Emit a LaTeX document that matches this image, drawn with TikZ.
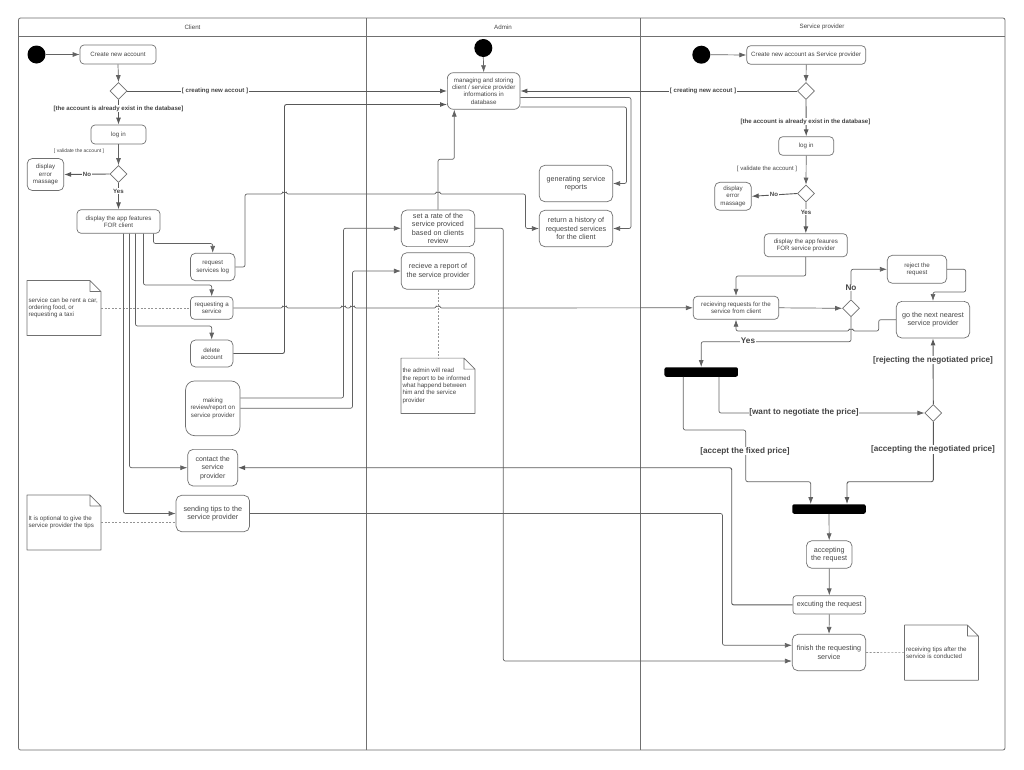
\documentclass[tikz,border=0pt]{standalone}
\usepackage{fontspec}
\setmainfont{Liberation Sans}
\usetikzlibrary{arrows.meta,shapes.geometric}
\definecolor{linec}{HTML}{626262}
\definecolor{boxc}{HTML}{707070}
\definecolor{txt}{HTML}{444444}
\newcommand\fa{\fontsize{6.2}{7.3}\selectfont}
\newcommand\fb{\fontsize{7.2}{8.5}\selectfont}
\newcommand\fc{\fontsize{6.1}{7.3}\selectfont\bfseries}
\newcommand\fd{\fontsize{8.2}{9}\selectfont\bfseries}
\hyphenpenalty=10000
\tikzset{
  act/.style={rectangle,rounded corners=4,draw=boxc,line width=.7,align=center,inner sep=0,text=txt,font=\fa},
  big/.style={act,font=\fb,rounded corners=5.5},
  dec/.style={diamond,draw=boxc,line width=.7,inner sep=0,minimum width=17,minimum height=17,aspect=1,fill=white},
  start/.style={circle,fill=black,inner sep=0,minimum size=18},
  bar/.style={rectangle,rounded corners=2,fill=black,inner sep=0,minimum width=73.5,minimum height=9.5},
  note/.style={rectangle,inner ysep=0,inner xsep=1,minimum width=73.5,text width=71,align=flush left,font=\fa,text=txt},
  flow/.style={draw=linec,line width=.7,rounded corners=2,-{Latex[length=7,width=5]}},
  strong/.style={flow,draw=linec!90!black,line width=.9},
  dotl/.style={draw=gray!85,line width=.6,dash pattern=on 2 off 1.6},
  lab/.style={fill=white,inner sep=.6,text=txt,font=\fc},
  labd/.style={fill=white,inner sep=.6,text=txt,font=\fd},
  hop/.style 2 args={insert path={-- ({#1-1.8},#2) arc[start angle=180,end angle=0,radius=1.8pt]}},
  poh/.style 2 args={insert path={-- ({#1+1.8},#2) arc[start angle=0,end angle=180,radius=1.8pt]}},
}
\begin{document}
\begin{tikzpicture}[x=1pt,y=-1pt]
\useasboundingbox (0,0) rectangle (1024,769);
% lanes
\draw[draw=gray!85!black,line width=.8,rounded corners=2] (18.5,18) rectangle (1005,750);
\draw[draw=boxc,line width=.8] (18.5,36) -- (1005,36) (366,18) -- (366,750) (640,18) -- (640,750);
\node[font=\fa,text=txt] (tclient) at (192.5,27) {Client};
\node[font=\fa,text=txt] (tadmin) at (503,27) {Admin};
\node[font=\fa,text=txt] (tsp) at (822,27) {Service provider};
% client nodes
\node[start] (cs) at (36.5,54.5) {};
\node[act,minimum width=76,minimum height=19] (ccreate) at (118,54.5) {Create new account};
\node[dec] (cd1) at (118.5,91) {};
\node[act,minimum width=55,minimum height=19] (clogin) at (118.5,134.5) {log in};
\node[dec] (cd2) at (118.5,174) {};
\node[act,minimum width=36.5,minimum height=32,rounded corners=5] (cerr) at (45.5,174.5) {display\\error\\massage};
\node[act,minimum width=83,minimum height=23.5] (cdisp) at (118.5,221.5) {display the app features\\FOR client};
\node[act,minimum width=44.5,minimum height=27.5,rounded corners=5] (clog) at (212.7,267) {request\\services log};
\node[act,minimum width=42.5,minimum height=22.5] (creq) at (211.7,308) {requesting a\\service};
\node[act,minimum width=42.5,minimum height=27,rounded corners=5] (cdel) at (211.7,353.5) {delete\\account};
\node[act,minimum width=54.5,minimum height=54.7,rounded corners=9] (cmake) at (212.8,408.3) {making\\review/report  on\\service provider};
\node[big,minimum width=50,minimum height=36.7,font=\fontsize{7}{8.5}\selectfont] (ccontact) at (212.7,467.7) {contact the\\service\\provider};
\node[big,minimum width=73.5,minimum height=36.4] (ctips) at (212.8,513.5) {sending tips to the\\service provider};
\node[note,minimum height=54.6] (n1) at (64,308) {service can be rent a car,\\ordering food, or\\requesting a taxi};
\node[note,minimum height=54.6] (n2) at (64,522.5) {It is optional to give the\\service provider the tips};
% admin nodes
\node[start] (as) at (483.3,48) {};
\node[act,minimum width=72.7,minimum height=36.6,rounded corners=6] (amanage) at (483.7,91) {managing and storing\\client / service provider\\informations in\\database};
\node[big,minimum width=73.4,minimum height=36.4] (agen) at (576,183.5) {generating service\\reports};
\node[big,minimum width=73.4,minimum height=36.4] (ahist) at (576,228.5) {return a history of\\requested services\\for the client};
\node[big,minimum width=73.4,minimum height=36.6,font=\fontsize{7.2}{8.5}\selectfont] (arate) at (438,228.3) {set a rate of the\\service proviced\\based on clients\\review};
\node[big,minimum width=73.4,minimum height=36.6] (arep) at (438,271) {recieve a report of\\the service provider};
\node[note,minimum height=55] (n3) at (438,385.8) {the admin will read\\the report to be informed\\what happend between\\him and the service\\provider};
% sp nodes
\node[start] (ss) at (701.3,54.7) {};
\node[act,minimum width=119,minimum height=18.6] (screate) at (806.2,55) {Create new account as Service provider};
\node[dec] (sd1) at (806,91) {};
\node[act,minimum width=55,minimum height=18.6] (slogin) at (806.2,146) {log in};
\node[dec] (sd2) at (806,193.5) {};
\node[act,minimum width=36.6,minimum height=28,rounded corners=5] (serr) at (733,196.3) {display\\error\\massage};
\node[act,minimum width=83,minimum height=23] (sdisp) at (805.8,245.2) {display the app feaures\\FOR service provider};
\node[act,minimum width=85.4,minimum height=23] (srecv) at (736,307.8) {recieving requests for the\\service from client};
\node[dec] (sd3) at (851,308.3) {};
\node[act,minimum width=59.4,minimum height=28,rounded corners=5] (srej) at (917,269.3) {reject the\\request};
\node[big,minimum width=73.4,minimum height=36.7] (sgo) at (933,319.7) {go the next nearest\\service provider};
\node[bar] (sb1) at (701.2,372) {};
\node[dec] (sd4) at (933.3,413) {};
\node[bar] (sb2) at (829,509) {};
\node[big,minimum width=45.7,minimum height=27.6] (sacc) at (829.2,554.5) {accepting\\the request};
\node[big,minimum width=72.7,minimum height=18.3,rounded corners=3] (sexe) at (829.3,604.9) {excuting the request};
\node[big,minimum width=73.4,minimum height=36.4] (sfin) at (829,652.5) {finish the requesting\\service};
\node[note,minimum height=54.7] (n4) at (941.5,652.6) {receiving tips after the\\service is conducted};
% note outlines
\foreach \n in {n1,n2,n3,n4}{
  \draw[draw=boxc,line width=.7,line join=round]
    ([xshift=-11]\n.north east) -- (\n.north west) -- (\n.south west) -- (\n.south east) -- ([yshift=-11]\n.north east) -- ([xshift=-11]\n.north east) -- ([xshift=-11,yshift=-11]\n.north east) -- ([yshift=-11]\n.north east);
}
% note links
\draw[dotl] (n1.east) -- (creq.west);
\draw[dotl] (n2.east) -- ([yshift=-9]ctips.west);
\draw[dotl] (arep.south) -- (n3.north);
\draw[dotl] (sfin.east) -- (n4.west);
% client flows
\draw[flow] (cs.east) -- (ccreate.west);
\draw[flow] (ccreate.south) -- (cd1.north);
\draw[strong] (cd1.east) -- (amanage.west);
\draw[strong] (cd1.south) -- (clogin.north);
\draw[flow] (clogin.south) -- (cd2.north);
\draw[strong] (cd2.west) -- (cerr.east);
\draw[strong] (cd2.south) -- (cdisp.north);
\draw[flow] ([xshift=35]cdisp.south) -- (153.5,243.5) -| (clog.north);
\draw[flow] ([xshift=25]cdisp.south) -- (143.5,285) -| (creq.north);
\draw[flow] ([xshift=17]cdisp.south) -- (135.5,326) -| (cdel.north);
\draw[flow] ([xshift=11]cdisp.south) |- (ccontact.west);
\draw[flow] ([xshift=5]cdisp.south) |- (ctips.west);
\draw[flow] (clog.east) -| (245,194) [hop={284.5}{194}] [hop={438}{194}] -- (525.5,194) |- (ahist.west);
\draw[strong] (cdel.east) -| (284.5,104.5) -- ([yshift=-13.5]amanage.west);
\draw[flow] ([yshift=10.3]cmake.east) -| (343.5,228.3) -- (arate.west);
\draw[flow] (cmake.east) -| (352.5,271) -- (arep.west);
\draw[flow] (creq.east) [hop={284.5}{308}] [hop={343.5}{308}] [hop={352.5}{308}] [hop={438}{308}] -- (srecv.west);
\draw[flow] ([xshift=0]ctips.east) -| (722.5,645.3) -- ([yshift=7.2]sfin.west);
% admin flows
\draw[flow] (as.south) -- (amanage.north);
\draw[flow] ([yshift=-16]amanage.east) -| (626.5,183.5) -- (agen.east);
\draw[flow] ([yshift=-6.5]amanage.east) -| (631,228.5) -- (ahist.east);
\draw[flow] (arate.north) |- (454.3,159.3) -- ([xshift=-29.4]amanage.south);
\draw[flow] (arate.east) -| (503.3,661) -- ([yshift=-8.5]sfin.west);
% sp flows
\draw[flow] (ss.east) -- (screate.west);
\draw[flow] (screate.south) -- (sd1.north);
\draw[strong] (sd1.west) -- (amanage.east);
\draw[strong] (sd1.south) -- (slogin.north);
\draw[flow] (slogin.south) -- (sd2.north);
\draw[strong] (sd2.west) -- (serr.east);
\draw[strong] (sd2.south) -- (sdisp.north);
\draw[flow] (sdisp.south) |- (736,276) -- (srecv.north);
\draw[flow] (srecv.east) -- (sd3.west);
\draw[flow] (sd3.north) |- (srej.west);
\draw[flow] (srej.east) -| (965.7,292) -| (sgo.north);
\draw[flow] (sgo.west) -| (878.7,331) [poh={851}{331}] -| (srecv.south);
\draw[flow] (sd3.south) |- (701.2,341.7) -- (sb1.north);
\draw[flow] ([xshift=17.8]sb1.south) |- (sd4.west);
\draw[flow] ([xshift=-17.9]sb1.south) |- (745.7,430) |- (810.7,481.7) -- ([xshift=-18.3]sb2.north);
\draw[strong] (sd4.north) -- (sgo.south);
\draw[strong] (sd4.south) |- (847,481.7) -- ([xshift=18]sb2.north);
\draw[flow] (sb2.south) -- (sacc.north);
\draw[flow] (sacc.south) -- (sexe.north);
\draw[strong] (sexe.west) -| (731.7,467.7) -- (ccontact.east);
\draw[flow] (sexe.south) -- (sfin.north);
% labels
\node[lab] (l1) at (215,90.7) {[ creating new accout ]};
\node[lab] (l2) at (118.5,108.5) {[the account is already exist in the database]};
\node[font=\fontsize{5}{6}\selectfont,text=txt] (l3) at (79,151.5) {[ validate the account ]};
\node[lab] (l4) at (87,174) {No};
\node[lab] (l5) at (118.5,191) {Yes};
\node[lab] (l6) at (703,90.5) {[ creating new accout ]};
\node[lab] (l7) at (805.5,121.5) {[the account is already exist in the database]};
\node[font=\fontsize{6}{7}\selectfont,text=txt] (l8) at (767,168.5) {[ validate the account ]};
\node[lab] (l9) at (774,194) {No};
\node[lab] (l10) at (806,212) {Yes};
\node[labd] (l11) at (851,288) {No};
\node[labd] (l12) at (748,340.5) {Yes};
\node[labd] (l13) at (804,412) {[want to negotiate the price]};
\node[labd] (l14) at (745,451) {[accept the fixed price]};
\node[labd] (l15) at (933,360) {[rejecting the negotiated price]};
\node[labd] (l16) at (933,449.5) {[accepting the negotiated price]};
\end{tikzpicture}
\end{document}
